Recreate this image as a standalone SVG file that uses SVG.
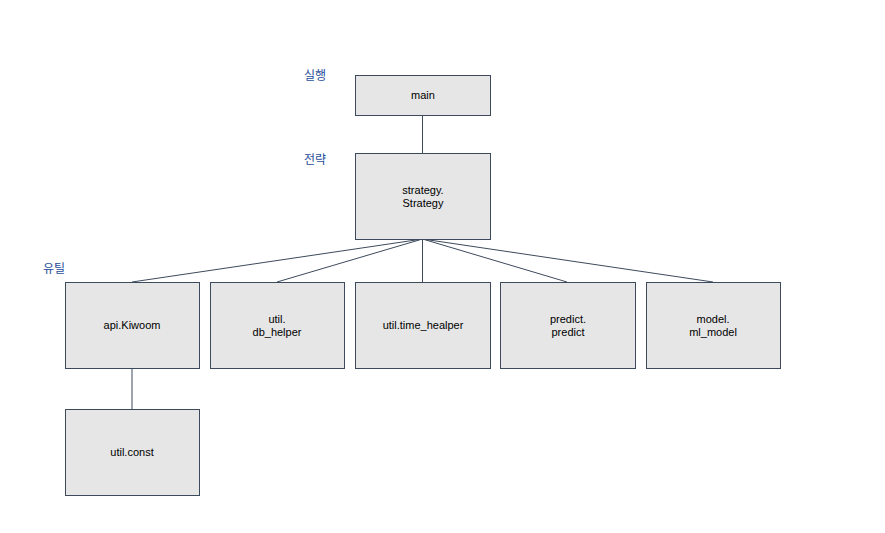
<svg xmlns="http://www.w3.org/2000/svg" width="885" height="533" viewBox="0 0 885 533">
<style>
.b{fill:#e6e6e6;stroke:#3d4a5c;stroke-width:1}
.t{font-family:"Liberation Sans",Arial,sans-serif;font-size:11px;fill:#000;text-anchor:middle}
.k{font-family:"Noto Sans CJK KR","Noto Sans",sans-serif;font-size:12px;fill:#1f4e99}
.c line{stroke:#3d4a5c;stroke-width:1}
</style>
<rect width="885" height="533" fill="#fff"/>
<g id="labels">
<text class="k" x="304" y="80">실행</text>
<text class="k" x="304" y="164">전략</text>
<text class="k" x="43" y="273">유틸</text>
</g>
<g class="c" id="connectors">
<line x1="422.5" y1="115" x2="422.5" y2="153"/>
<line x1="422.5" y1="239" x2="132" y2="282"/>
<line x1="422.5" y1="239" x2="277" y2="282"/>
<line x1="422.5" y1="239" x2="422.5" y2="282"/>
<line x1="422.5" y1="239" x2="567" y2="282"/>
<line x1="422.5" y1="239" x2="713" y2="282"/>
<line x1="132" y1="368" x2="132" y2="409"/>
</g>
<g id="main"><rect class="b" x="355.5" y="75.5" width="135" height="40"/><text class="t" x="423" y="99">main</text></g>
<g id="strategy"><rect class="b" x="355.5" y="153.5" width="135" height="86"/><text class="t" x="423" y="194">strategy.</text><text class="t" x="423" y="207">Strategy</text></g>
<g id="kiwoom"><rect class="b" x="65.5" y="282.5" width="134" height="86"/><text class="t" x="132" y="329">api.Kiwoom</text></g>
<g id="dbhelper"><rect class="b" x="210.5" y="282.5" width="134" height="86"/><text class="t" x="277" y="323">util.</text><text class="t" x="277" y="336">db_helper</text></g>
<g id="timehelper"><rect class="b" x="355.5" y="282.5" width="135" height="86"/><text class="t" x="423" y="329">util.time_healper</text></g>
<g id="predict"><rect class="b" x="500.5" y="282.5" width="135" height="86"/><text class="t" x="568" y="323">predict.</text><text class="t" x="568" y="336">predict</text></g>
<g id="model"><rect class="b" x="646.5" y="282.5" width="134" height="86"/><text class="t" x="713" y="323">model.</text><text class="t" x="713" y="336">ml_model</text></g>
<g id="const"><rect class="b" x="65.5" y="409.5" width="134" height="86"/><text class="t" x="132" y="456">util.const</text></g>
</svg>
